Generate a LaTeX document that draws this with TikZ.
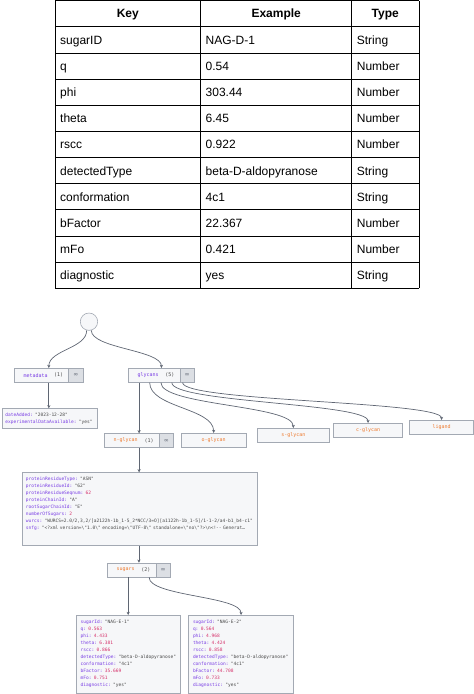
\documentclass[tikz,border=0pt]{standalone}
\usepackage{fontspec}
\setmainfont{Liberation Sans}
\setmonofont{DejaVu Sans Mono}
\newfontfamily\iconfont{DejaVu Sans}
\usetikzlibrary{arrows.meta}

\definecolor{keypurple}{HTML}{7A3FE4}
\definecolor{numpink}{HTML}{D6336C}
\definecolor{strgray}{HTML}{4A4A4A}
\definecolor{arrorange}{HTML}{EE7B30}
\definecolor{boxfill}{HTML}{F6F7F9}
\definecolor{boxline}{HTML}{A3A9B3}
\definecolor{linkfill}{HTML}{DCDFE4}
\definecolor{edgegray}{HTML}{5F6673}

\newcommand{\jkey}[1]{\textcolor{keypurple}{#1:}}
\newcommand{\jnum}[1]{\textcolor{numpink}{#1}}
\newcommand{\jstr}[1]{\textcolor{strgray}{"#1"}}

\begin{document}
\begin{tikzpicture}[x=1pt, y=1pt, >={Stealth[length=3.2pt,width=3.2pt]},
  cell/.style={anchor=base west, inner sep=0pt, font=\fontsize{12}{14}\selectfont},
  head/.style={anchor=base, inner sep=0pt, font=\fontsize{12}{14}\selectfont\bfseries},
  edge/.style={->, draw=edgegray, line width=0.7pt},
  keybox/.style={draw=boxline, fill=boxfill, line width=0.6pt, rectangle, anchor=north west,
    minimum height=14pt, inner sep=0pt},
  keyname/.style={anchor=west, inner sep=0pt, font=\ttfamily\fontsize{5}{6}\selectfont},
  keycount/.style={anchor=east, inner sep=0pt, text=strgray, font=\ttfamily\fontsize{5}{6}\selectfont},
  linkbox/.style={draw=boxline, fill=linkfill, line width=0.6pt, anchor=north east,
    minimum width=14.4pt, minimum height=14pt, inner sep=0pt,
    font=\iconfont\fontsize{6}{6}\selectfont, text=edgegray},
  leafbox/.style={draw=boxline, fill=boxfill, line width=0.6pt, anchor=north west,
    minimum height=14pt, inner sep=0pt, font=\ttfamily\fontsize{5}{6}\selectfont, text=arrorange},
  jsonbox/.style={draw=boxline, fill=boxfill, line width=0.6pt, anchor=north west, inner sep=0pt},
  jsontext/.style={anchor=base west, inner sep=0pt, text width=#1, align=left,
    font=\ttfamily\fontsize{4.55}{7.05}\selectfont}]
  \useasboundingbox (0,0) rectangle (474,-694);

  % table
  \foreach \r in {0,...,11}
    \draw[line width=1pt] (55,{-0.8-26.14*\r}) -- (419,{-0.8-26.14*\r});
  \foreach \c in {55,200.7,351.7,419}
    \draw[line width=1pt] (\c,-0.8) -- (\c,-288.3);
  \node[head] (keyhead) at (127.8,-17.9) {Key};
  \node[head] (examplehead) at (276.2,-17.9) {Example};
  \node[head] (typehead) at (385.3,-17.9) {Type};
  \foreach \kname/\kval/\ktype [count=\i] in {sugarID/NAG-D-1/String, q/0.54/Number,
      phi/303.44/Number, theta/6.45/Number, rscc/0.922/Number,
      detectedType/beta-D-aldopyranose/String, conformation/4c1/String,
      bFactor/22.367/Number, mFo/0.421/Number, diagnostic/yes/String}{
    \pgfmathsetmacro{\rowy}{-5.1-26.14*(\i+0.5)}
    \node[cell] (key\i) at (60,\rowy) {\kname};
    \node[cell] (example\i) at (205.5,\rowy) {\kval};
    \node[cell] (type\i) at (356.7,\rowy) {\ktype};
  }

  % tree
  \node[circle, draw=boxline, fill=boxfill, line width=0.6pt, minimum size=17.4pt, inner sep=0pt]
    (root) at (89,-321.7) {};

  \node[keybox, minimum width=68.4pt] (metadata) at (14.3,-368) {};
  \node[linkbox] (metadatalink) at (metadata.north east) {∞};
  \node[keyname, text=keypurple] (metadataname) at ([xshift=9pt]metadata.west) {metadata};
  \node[keycount] (metadatacount) at ([xshift=-5pt]metadatalink.west) {(1)};

  \node[keybox, minimum width=65.7pt] (glycans) at (128.3,-368) {};
  \node[linkbox] (glycanslink) at (glycans.north east) {∞};
  \node[keyname, text=keypurple] (glycansname) at ([xshift=9pt]glycans.west) {glycans};
  \node[keycount] (glycanscount) at ([xshift=-5pt]glycanslink.west) {(5)};

  \node[jsonbox, minimum width=95.6pt, minimum height=20pt] (dates) at (1.7,-408.3) {};
  \node[jsontext=92pt] (datestext) at ([xshift=3.5pt,yshift=-8pt]dates.north west)
    {\jkey{dateAdded} \jstr{2023-12-28}\\
     \jkey{experimentalDataAvailable} \jstr{yes}};

  \node[keybox, minimum width=69pt] (nglycan) at (104.3,-433.3) {};
  \node[linkbox] (nglycanlink) at (nglycan.north east) {∞};
  \node[keyname, text=arrorange] (nglycanname) at ([xshift=9pt]nglycan.west) {n-glycan};
  \node[keycount] (nglycancount) at ([xshift=-5pt]nglycanlink.west) {(1)};
  \node[leafbox, minimum width=64.7pt] (oglycan) at (181,-433) {o-glycan};
  \node[leafbox, minimum width=72.6pt] (sglycan) at (256.7,-428) {s-glycan};
  \node[leafbox, minimum width=69pt] (cglycan) at (333.3,-423) {c-glycan};
  \node[leafbox, minimum width=64pt] (ligand) at (409.3,-420) {ligand};

  \node[jsonbox, minimum width=235pt, minimum height=72.7pt] (nglyinfo) at (21.7,-472.3) {};
  \node[jsontext=240pt] (nglyinfotext) at ([xshift=4pt,yshift=-8.3pt]nglyinfo.north west)
    {\jkey{proteinResidueType} \jstr{ASN}\\
     \jkey{proteinResidueId} \jstr{62}\\
     \jkey{proteinResidueSeqnum} \jnum{62}\\
     \jkey{proteinChainId} \jstr{A}\\
     \jkey{rootSugarChainId} \jstr{E}\\
     \jkey{numberOfSugars} \jnum{2}\\
     \jkey{wurcs} \jstr{WURCS=2.0/2,3,2/[a2122h-1b\_1-5\_2*NCC/3=O][a1122h-1b\_1-5]/1-1-2/a4-b1\_b4-c1}\\
     \jkey{snfg} \textcolor{strgray}{"<?xml version=\textbackslash"1.0\textbackslash" encoding=\textbackslash"UTF-8\textbackslash" standalone=\textbackslash"no\textbackslash"?>\textbackslash n<!-{}- Generat…}};

  \node[keybox, minimum width=62.7pt] (sugars) at (107.3,-562.7) {};
  \node[linkbox] (sugarslink) at (sugars.north east) {∞};
  \node[keyname, text=arrorange] (sugarsname) at ([xshift=9pt]sugars.west) {sugars};
  \node[keycount] (sugarscount) at ([xshift=-5pt]sugarslink.west) {(2)};

  \node[jsonbox, minimum width=104pt, minimum height=78pt] (sugar1) at (76,-615) {};
  \node[jsontext=110pt] (sugar1text) at ([xshift=4.5pt,yshift=-8.1pt]sugar1.north west)
    {\jkey{sugarId} \jstr{NAG-E-1}\\
     \jkey{q} \jnum{0.563}\\
     \jkey{phi} \jnum{4.433}\\
     \jkey{theta} \jnum{6.381}\\
     \jkey{rscc} \jnum{0.866}\\
     \jkey{detectedType} \jstr{beta-D-aldopyranose}\\
     \jkey{conformation} \jstr{4c1}\\
     \jkey{bFactor} \jnum{35.669}\\
     \jkey{mFo} \jnum{0.751}\\
     \jkey{diagnostic} \jstr{yes}};
  \node[jsonbox, minimum width=105pt, minimum height=78pt] (sugar2) at (188.3,-615) {};
  \node[jsontext=110pt] (sugar2text) at ([xshift=4.5pt,yshift=-8.1pt]sugar2.north west)
    {\jkey{sugarId} \jstr{NAG-E-2}\\
     \jkey{q} \jnum{0.564}\\
     \jkey{phi} \jnum{4.968}\\
     \jkey{theta} \jnum{4.424}\\
     \jkey{rscc} \jnum{0.858}\\
     \jkey{detectedType} \jstr{beta-D-aldopyranose}\\
     \jkey{conformation} \jstr{4c1}\\
     \jkey{bFactor} \jnum{44.708}\\
     \jkey{mFo} \jnum{0.733}\\
     \jkey{diagnostic} \jstr{yes}};

  % connectors
  \draw[edge] (root.255) .. controls ([yshift=-18pt]root.255) and ([yshift=18pt]metadata.north) .. (metadata.north);
  \draw[edge] (root.285) .. controls ([yshift=-18pt]root.285) and ([yshift=18pt]glycans.north) .. (glycans.north);
  \draw[edge] (metadata.south) -- (metadata.south |- dates.north);
  \draw[edge] (glycans.south -| nglycan.north) -- (nglycan.north);
  \coordinate (g2) at ([xshift=21.4pt]glycans.south west);
  \coordinate (g3) at ([xshift=32.6pt]glycans.south west);
  \coordinate (g4) at ([xshift=43.5pt]glycans.south west);
  \coordinate (g5) at ([xshift=54.3pt]glycans.south west);
  \draw[edge] (g2) .. controls ([yshift=-25pt]g2) and ([yshift=25pt]oglycan.north) .. (oglycan.north);
  \draw[edge] (g3) .. controls ([yshift=-23pt]g3) and ([yshift=23pt]sglycan.north) .. (sglycan.north);
  \draw[edge] (g4) .. controls ([yshift=-20pt]g4) and ([yshift=20pt]cglycan.north) .. (cglycan.north);
  \draw[edge] (g5) .. controls ([yshift=-19pt]g5) and ([yshift=19pt]ligand.north) .. (ligand.north);
  \draw[edge] (nglycan.south) -- (nglycan.south |- nglyinfo.north);
  \draw[edge] (nglyinfo.south -| sugars.north) -- (sugars.north);
  \coordinate (s1) at ([xshift=20.9pt]sugars.south west);
  \coordinate (s2) at ([xshift=41.8pt]sugars.south west);
  \draw[edge] (s1) -- (s1 |- sugar1.north);
  \draw[edge] (s2) .. controls ([yshift=-19pt]s2) and ([yshift=19pt]sugar2.north) .. (sugar2.north);
\end{tikzpicture}
\end{document}
